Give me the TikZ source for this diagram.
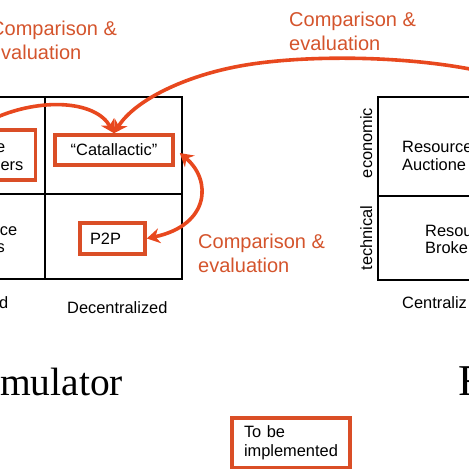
\documentclass[tikz,border=0pt]{standalone}
\usepackage{fontspec}
\setmainfont{Liberation Sans}
\newfontfamily\titleserif{Liberation Serif}
\usetikzlibrary{arrows.meta,calc}
\definecolor{ortext}{RGB}{212,84,44}
\definecolor{orline}{RGB}{232,72,30}
\definecolor{orbox}{RGB}{218,78,38}
\begin{document}
\begin{tikzpicture}[x=1pt,y=-1pt,
  lbl/.style={font=\fontsize{16.4}{18}\selectfont, inner sep=0pt},
  cmp/.style={font=\fontsize{20}{24}\selectfont, text=ortext, inner sep=0pt, anchor=base west},
  obox/.style={draw=orbox, line width=3.5pt, font=\fontsize{16.4}{19}\selectfont},
  gridline/.style={line width=1.1pt, black},
  arr/.style={draw=orline, line width=3.6pt, -{Stealth[length=13pt,width=15pt]}},
  dblarr/.style={draw=orline, line width=3.6pt, {Stealth[length=13pt,width=15pt]}-{Stealth[length=13pt,width=15pt]}},
  ttl/.style={font=\titleserif\fontsize{39.5}{42}\selectfont, inner sep=0pt}]
\useasboundingbox (0,0) rectangle (469,469);
\clip (0,0) rectangle (469,469);

% grids
\draw[gridline] (-92,97) rectangle (182,279);
\draw[gridline] (45,97) -- (45,279);
\draw[gridline] (-92,194) -- (182,194);
\draw[gridline] (378,97) rectangle (650,280);
\draw[gridline] (378,196) -- (650,196);

% boxes
\node[obox, minimum width=118pt, minimum height=30pt, inner sep=0pt] (cat) at (114,150) {“Catallactic”};
\node[obox, text width=45pt, inner xsep=10pt, inner ysep=0pt, minimum height=31pt, align=left] (p2p) at (112.5,238.5) {P2P};
\node[obox, minimum width=110pt, minimum height=50pt, anchor=east] (auc) at (37,155) {};
\node[obox, text width=94pt, inner xsep=12pt, minimum height=50pt, align=left] (impl) at (291,443) {To be\\implemented};

% left grid texts
\node[lbl, anchor=base east] (t1) at (5.5,152) {e};
\node[lbl, anchor=base east] (t2) at (23.5,170) {ers};
\node[lbl, anchor=base east] (t3) at (17.5,235) {ce};
\node[lbl, anchor=base east] (t4) at (5,252) {s};
\node[lbl, anchor=base east] (t5) at (8.5,308) {d};
\node[lbl, anchor=base west] (t6) at (67,313) {Decentralized};

% right grid texts
\node[lbl, anchor=base west] (r1) at (402,152) {Resource};
\node[lbl, anchor=base west] (r2) at (402,170) {Auctione};
\node[lbl, anchor=base west] (r3) at (425,236) {Resou};
\node[lbl, anchor=base west] (r4) at (425,253) {Broke};
\node[lbl, anchor=base west] (r5) at (402,308) {Centraliz};
\node[lbl, anchor=base, rotate=90] (r6) at (372,143) {economic};
\node[lbl, anchor=base, rotate=90] (r7) at (372,238) {technical};

% titles
\node[ttl, anchor=base west] (s1) at (0,395) {mulator};
\node[ttl, font=\titleserif\fontsize{44}{46}\selectfont, anchor=base west] (s2) at (458,395) {F};

% comparison labels
\node[cmp] (c1a) at (-10,35) {Comparison \&};
\node[cmp] (c1b) at (1,59) {valuation};
\node[cmp] (c2a) at (289,26) {Comparison \&};
\node[cmp] (c2b) at (289,50) {evaluation};
\node[cmp] (c3a) at (198,248) {Comparison \&};
\node[cmp] (c3b) at (198,272) {evaluation};

% arrows
\coordinate (rfar) at (475,70);
\coordinate (lfar) at (-5,118);
\draw[arr] (rfar) .. controls (400,55) and (300,55) .. (240,66) .. controls (185,76) and (135,100) .. (cat.north);
\draw[arr] (lfar) .. controls (40,98) and (95,100) .. (cat.north);
\draw[dblarr] ($(cat.east)+(5,3)$) .. controls (212,180) and (210,225) .. (p2p.east);
\end{tikzpicture}
\end{document}
